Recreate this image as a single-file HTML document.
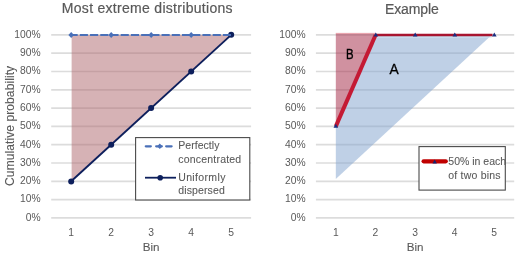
<!DOCTYPE html>
<html><head><meta charset="utf-8"><style>
html,body{margin:0;padding:0;background:#fff;width:520px;height:256px;overflow:hidden}
svg{display:block}
text{font-family:"Liberation Sans",Arial,sans-serif;fill:#595959}
.t{font-size:14px;stroke:#595959;stroke-width:0.2px}
.ax{font-size:10.3px}
.at{font-size:12px;stroke:#595959;stroke-width:0.1px}
.lg{font-size:10.5px;stroke:#595959;stroke-width:0.08px}
.g{stroke:#DCDCDC;stroke-width:1.7}
</style></head><body>
<svg width="520" height="256" viewBox="0 0 520 256">
<!-- ===== LEFT CHART ===== -->
<text class="t" x="61.8" y="13.2" textLength="170.8" lengthAdjust="spacing">Most extreme distributions</text>
<g class="g">
<line x1="51.2" x2="251.1" y1="34.90" y2="34.90"/>
<line x1="51.2" x2="251.1" y1="53.20" y2="53.20"/>
<line x1="51.2" x2="251.1" y1="71.50" y2="71.50"/>
<line x1="51.2" x2="251.1" y1="89.80" y2="89.80"/>
<line x1="51.2" x2="251.1" y1="108.10" y2="108.10"/>
<line x1="51.2" x2="251.1" y1="126.40" y2="126.40"/>
<line x1="51.2" x2="251.1" y1="144.70" y2="144.70"/>
<line x1="51.2" x2="251.1" y1="163.00" y2="163.00"/>
<line x1="51.2" x2="251.1" y1="181.30" y2="181.30"/>
<line x1="51.2" x2="251.1" y1="199.60" y2="199.60"/>
<line x1="51.2" x2="251.1" y1="217.90" y2="217.90"/>
</g>
<g class="ax" text-anchor="end">
<text x="40.6" y="37.60">100%</text>
<text x="40.6" y="55.92">90%</text>
<text x="40.6" y="74.24">80%</text>
<text x="40.6" y="92.56">70%</text>
<text x="40.6" y="110.88">60%</text>
<text x="40.6" y="129.20">50%</text>
<text x="40.6" y="147.52">40%</text>
<text x="40.6" y="165.84">30%</text>
<text x="40.6" y="184.16">20%</text>
<text x="40.6" y="202.48">10%</text>
<text x="40.6" y="220.80">0%</text>
</g>
<g class="ax" text-anchor="middle">
<text x="71" y="236">1</text>
<text x="111" y="236">2</text>
<text x="151" y="236">3</text>
<text x="191" y="236">4</text>
<text x="231" y="236">5</text>
</g>
<text class="at" x="151.1" y="251.3" text-anchor="middle" style="font-size:11.6px" textLength="16.6">Bin</text>
<text class="at" transform="translate(14.3,125.9) rotate(-90)" text-anchor="middle" textLength="120">Cumulative probability</text>
<!-- fill -->
<polygon points="71.6,34.9 231.2,34.9 71.6,181" fill="rgb(173,101,107)" fill-opacity="0.5"/>
<!-- uniform line -->
<polyline points="71.2,181.3 231.2,34.9" fill="none" stroke="#0D1F5C" stroke-width="1.9"/>
<g fill="#0D1F5C">
<circle cx="71.2" cy="181.4" r="3"/>
<circle cx="111.2" cy="144.7" r="3"/>
<circle cx="151.1" cy="108" r="3"/>
<circle cx="191.2" cy="71.4" r="3"/>
<circle cx="231.2" cy="34.8" r="3"/>
</g>
<!-- concentrated dashed -->
<line x1="71.2" x2="231.2" y1="35" y2="35" stroke="#4A70B8" stroke-width="2.1" stroke-dasharray="8.1 2.12" stroke-dashoffset="1.6"/>
<g fill="#4A70B8">
<polygon points="71.2,32 74,35 71.2,38 68.4,35"/>
<polygon points="111.2,32 114,35 111.2,38 108.4,35"/>
<polygon points="151.2,32 154,35 151.2,38 148.4,35"/>
<polygon points="191.2,32 194,35 191.2,38 188.4,35"/>
</g>
<!-- legend -->
<rect x="135.6" y="137.6" width="114.2" height="62.4" fill="#fff" stroke="#4a4a4a" stroke-width="1.1"/>
<g stroke="#4A70B8" stroke-width="2.3" stroke-linecap="round">
<line x1="145.8" x2="150.8" y1="146.3" y2="146.3"/>
<line x1="156.2" x2="161.8" y1="146.3" y2="146.3"/>
<line x1="166.2" x2="171.6" y1="146.3" y2="146.3"/>
</g>
<polygon points="159.8,143.5 162.4,146.3 159.8,149.1 157.2,146.3" fill="#4A70B8"/>
<line x1="145" x2="176" y1="177.7" y2="177.7" stroke="#0D1F5C" stroke-width="1.8"/>
<circle cx="160.2" cy="177.7" r="2.8" fill="#0D1F5C"/>
<g class="lg">
<text x="178.2" y="148.8" textLength="41.2">Perfectly</text>
<text x="178.2" y="162.5" textLength="63">concentrated</text>
<text x="178.2" y="180.9" textLength="47.2">Uniformly</text>
<text x="178.2" y="194.1" textLength="46.6">dispersed</text>
</g>

<!-- ===== RIGHT CHART ===== -->
<text class="t" x="384.9" y="14.4" textLength="54">Example</text>
<g class="g">
<line x1="315.9" x2="514.2" y1="34.90" y2="34.90"/>
<line x1="315.9" x2="514.2" y1="53.20" y2="53.20"/>
<line x1="315.9" x2="514.2" y1="71.50" y2="71.50"/>
<line x1="315.9" x2="514.2" y1="89.80" y2="89.80"/>
<line x1="315.9" x2="514.2" y1="108.10" y2="108.10"/>
<line x1="315.9" x2="514.2" y1="126.40" y2="126.40"/>
<line x1="315.9" x2="514.2" y1="144.70" y2="144.70"/>
<line x1="315.9" x2="514.2" y1="163.00" y2="163.00"/>
<line x1="315.9" x2="514.2" y1="181.30" y2="181.30"/>
<line x1="315.9" x2="514.2" y1="199.60" y2="199.60"/>
<line x1="315.9" x2="514.2" y1="217.90" y2="217.90"/>
</g>
<g class="ax" text-anchor="end">
<text x="305.6" y="37.60">100%</text>
<text x="305.6" y="55.92">90%</text>
<text x="305.6" y="74.24">80%</text>
<text x="305.6" y="92.56">70%</text>
<text x="305.6" y="110.88">60%</text>
<text x="305.6" y="129.20">50%</text>
<text x="305.6" y="147.52">40%</text>
<text x="305.6" y="165.84">30%</text>
<text x="305.6" y="184.16">20%</text>
<text x="305.6" y="202.48">10%</text>
<text x="305.6" y="220.80">0%</text>
</g>
<g class="ax" text-anchor="middle">
<text x="335.8" y="236">1</text>
<text x="375.4" y="236">2</text>
<text x="415" y="236">3</text>
<text x="454.6" y="236">4</text>
<text x="494.2" y="236">5</text>
</g>
<text class="at" x="415.1" y="251.3" text-anchor="middle" style="font-size:11.6px" textLength="16.6">Bin</text>
<!-- B pink -->
<polygon points="335.8,33.8 375.8,33.8 335.8,126.4" fill="rgb(161,35,65)" fill-opacity="0.5"/>
<line x1="335.8" x2="375.8" y1="33.4" y2="33.4" stroke="rgb(230,150,162)" stroke-width="0.9"/>
<!-- A blue -->
<polygon points="335.8,179 335.8,126.4 375.4,36 490.6,36" fill="rgb(127,161,205)" fill-opacity="0.5"/>
<!-- red line -->
<line x1="375.4" x2="491.8" y1="37" y2="37" stroke="#D2E8F6" stroke-width="1"/>
<line x1="375.4" x2="492.5" y1="35" y2="35" stroke="#A81530" stroke-width="2.4"/>
<line x1="335.8" y1="126.4" x2="375.6" y2="35" stroke="#C41A34" stroke-width="4" stroke-linecap="butt"/>
<g fill="#1A2E80">
<polygon points="335.8,123.8 338.1,127.8 333.5,127.8"/>
<polygon points="375.8,32.4 378.1,36.6 373.5,36.6"/>
<polygon points="415.2,32.4 417.5,36.6 412.9,36.6"/>
<polygon points="454.8,32.4 457.1,36.6 452.5,36.6"/>
<polygon points="494.3,32.4 496.6,36.6 492,36.6"/>
</g>
<text x="346" y="58.6" textLength="7.6" lengthAdjust="spacingAndGlyphs" style="font-size:14px;fill:#000;stroke:#000;stroke-width:0.35">B</text>
<text x="389.6" y="73.7" textLength="9.2" lengthAdjust="spacingAndGlyphs" style="font-size:14px;fill:#000;stroke:#000;stroke-width:0.3">A</text>
<!-- legend -->
<rect x="419" y="146.6" width="86.3" height="43.5" fill="#fff" stroke="#4a4a4a" stroke-width="1.1"/>
<line x1="423.6" x2="445.8" y1="161.3" y2="161.3" stroke="#C00000" stroke-width="4.2" stroke-linecap="round"/>
<polygon points="434.7,159.5 436.9,163.5 432.5,163.5" fill="#142470"/>
<g class="lg">
<text x="448.3" y="165.1">50% in each</text>
<text x="448.2" y="178.8" textLength="52.4">of two bins</text>
</g>
</svg>
</body></html>
